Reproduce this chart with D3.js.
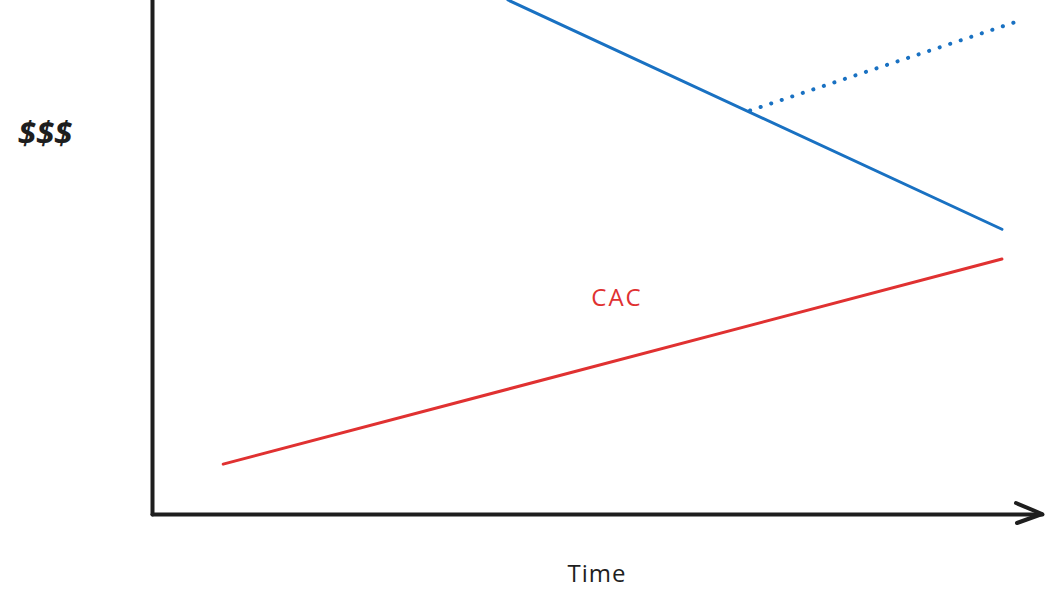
<!DOCTYPE html>
<html><head><meta charset="utf-8">
<script src="https://cdn.jsdelivr.net/npm/d3@7"></script>
<style>body{margin:0;background:#fff}svg{display:block}</style>
</head><body>
<svg id="c" width="1058" height="600"></svg>
<script>
// Data (time units 0..10, value units 0..10)
const cacTime = [0.8, 9.55];
const cacValue = [0.97, 4.96];
const ltvTime = [4.0, 9.55];
const ltvValue = [10.0, 5.54];
const ltvProjTime = [6.72, 9.7];
const ltvProjValue = [7.85, 9.57];
const labels = {y: "$$$", x: "Time", series: "CAC"};

const svg = d3.select("#c");
const x = d3.scaleLinear().domain([0, 10]).range([152, 1042]);
const y = d3.scaleLinear().domain([0, 10]).range([514, 0]);
const ink = "#1e1e1e", blue = "#1971c2", red = "#e03131";
const font = "'Open Sans', sans-serif";

// axes (no ticks)
svg.append("g").attr("transform", `translate(0,${y(0)})`)
  .call(d3.axisBottom(x).ticks(0).tickSizeOuter(0));
svg.append("g").attr("transform", `translate(${x(0)},0)`)
  .call(d3.axisLeft(y).ticks(0).tickSizeOuter(0));
svg.selectAll(".domain").attr("stroke", ink).attr("stroke-width", 4).attr("stroke-linecap", "round");
// arrow head
svg.append("path")
  .attr("d", `M${x(10) - 26},${y(0) - 11} L${x(10)},${y(0)} L${x(10) - 25},${y(0) + 9}`)
  .attr("fill", "none").attr("stroke", ink).attr("stroke-width", 4)
  .attr("stroke-linecap", "round").attr("stroke-linejoin", "round");

const line = d3.line().x(d => x(d[0])).y(d => y(d[1]));
svg.append("path").datum(d3.zip(ltvTime, ltvValue)).attr("d", line)
  .attr("fill", "none").attr("stroke", blue).attr("stroke-width", 3).attr("stroke-linecap", "round");
svg.append("path").datum(d3.zip(ltvProjTime, ltvProjValue)).attr("d", line)
  .attr("fill", "none").attr("stroke", blue).attr("stroke-width", 4)
  .attr("stroke-linecap", "round").attr("stroke-dasharray", "0.1 11");
svg.append("path").datum(d3.zip(cacTime, cacValue)).attr("d", line)
  .attr("fill", "none").attr("stroke", red).attr("stroke-width", 3).attr("stroke-linecap", "round");

svg.append("text").attr("x", 45).attr("y", 145).attr("text-anchor", "middle")
  .attr("font-family", font).attr("font-size", 33).attr("font-weight", "bold").attr("font-style", "italic")
  .attr("fill", ink).text(labels.y);
svg.append("text").attr("x", 597).attr("y", 582).attr("text-anchor", "middle")
  .attr("font-family", font).attr("font-size", 24).attr("fill", ink).attr("letter-spacing", 1).text(labels.x);
svg.append("text").attr("x", 617).attr("y", 306).attr("text-anchor", "middle")
  .attr("font-family", font).attr("font-size", 24).attr("fill", red).attr("letter-spacing", 2).text(labels.series);
</script>
</body></html>
